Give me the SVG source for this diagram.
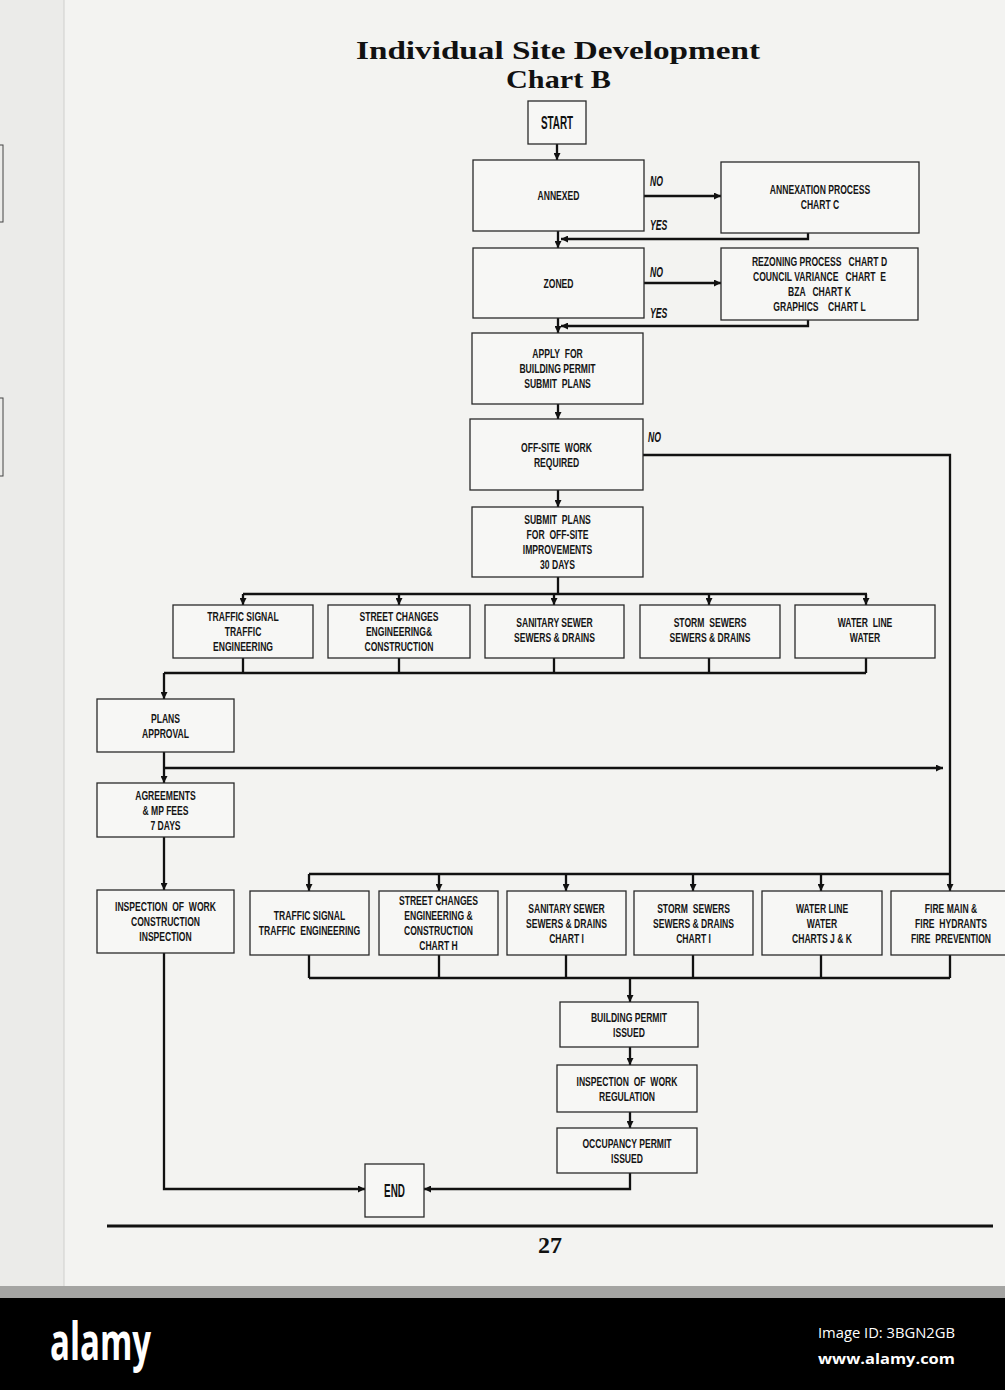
<svg xmlns="http://www.w3.org/2000/svg" width="1005" height="1390" viewBox="0 0 1005 1390">
<defs>
<marker id="ah" viewBox="0 0 10 10" refX="10" refY="5" markerWidth="7" markerHeight="7" markerUnits="userSpaceOnUse" orient="auto"><path d="M0,0 L10,5 L0,10 z" fill="#111"/></marker>
</defs>
<style>
.box{fill:#f7f7f5;stroke:#2a2a2a;stroke-width:1.3}
.t{font-family:"Liberation Sans",Arial,sans-serif;font-weight:bold;font-size:13px;fill:#141414;text-anchor:middle;white-space:pre}
.tb{font-family:"Liberation Sans",Arial,sans-serif;font-weight:bold;font-size:18px;fill:#111;text-anchor:middle}
.lbl{font-family:"Liberation Sans",Arial,sans-serif;font-weight:bold;font-style:italic;font-size:14px;fill:#111}
.c{fill:none;stroke:#111;stroke-width:2.3}
.a{marker-end:url(#ah)}
.title{font-family:"Liberation Serif","Times New Roman",serif;font-weight:bold;fill:#111;text-anchor:middle}
</style>
<rect x="0" y="0" width="1005" height="1390" fill="#f3f3f1"/>
<rect x="0" y="0" width="64" height="1300" fill="#ebebe9"/>
<line x1="64" y1="0" x2="64" y2="1300" stroke="#cfcfcd" stroke-width="1"/>
<rect x="-20" y="145" width="23" height="77" fill="none" stroke="#444" stroke-width="1"/>
<rect x="-20" y="398" width="23" height="78" fill="none" stroke="#444" stroke-width="1"/>

<g id="title">
<text class="title" x="558" y="59" font-size="26" textLength="404" lengthAdjust="spacingAndGlyphs">Individual Site Development</text>
<text class="title" x="558.5" y="88" font-size="26" textLength="105" lengthAdjust="spacingAndGlyphs">Chart B</text>
</g>

<g id="connectors">
<path class="c a" d="M557 144 V160"/>
<path class="c a" d="M644 196 H721"/>
<path class="c a" d="M808 233 V239 H561"/>
<path class="c a" d="M558 231 V248"/>
<path class="c a" d="M644 283 H721"/>
<path class="c a" d="M808 320 V326 H561"/>
<path class="c a" d="M558 318 V333"/>
<path class="c a" d="M558 404 V419"/>
<path class="c a" d="M643 455 H950 V891"/>
<path class="c a" d="M558 490 V507"/>
<path class="c" d="M558 577 V594"/>
<path class="c" d="M243 594 H867"/>
<path class="c a" d="M243 594 V605"/>
<path class="c a" d="M399 594 V605"/>
<path class="c a" d="M554 594 V605"/>
<path class="c a" d="M709 594 V605"/>
<path class="c a" d="M866 594 V605"/>
<path class="c" d="M243 658 V673 M399 658 V673 M554 658 V673 M709 658 V673 M866 658 V673"/>
<path class="c" d="M164 673 H866"/>
<path class="c a" d="M164 673 V699"/>
<path class="c a" d="M164 752 V783"/>
<path class="c a" d="M164 768 H943"/>
<path class="c a" d="M164 837 V890"/>
<path class="c a" d="M164 953 V1189 H365"/>
<path class="c" d="M309 874 H950"/>
<path class="c a" d="M309 874 V891"/>
<path class="c a" d="M439 874 V891"/>
<path class="c a" d="M566 874 V891"/>
<path class="c a" d="M693 874 V891"/>
<path class="c a" d="M821 874 V891"/>
<path class="c" d="M309 955 V978 M439 955 V978 M566 955 V978 M693 955 V978 M821 955 V978 M950 955 V978"/>
<path class="c" d="M309 978 H950"/>
<path class="c a" d="M630 978 V1002"/>
<path class="c a" d="M630 1047 V1065"/>
<path class="c a" d="M630 1112 V1128"/>
<path class="c a" d="M630 1173 V1189 H424"/>
</g>

<g id="labels">
<g transform="translate(650,186) scale(0.62,1)"><text class="lbl">NO</text></g>
<g transform="translate(650,230) scale(0.62,1)"><text class="lbl">YES</text></g>
<g transform="translate(650,277) scale(0.62,1)"><text class="lbl">NO</text></g>
<g transform="translate(650,318) scale(0.62,1)"><text class="lbl">YES</text></g>
<g transform="translate(648,442) scale(0.62,1)"><text class="lbl">NO</text></g>
</g>

<g id="start"><rect class="box" x="528" y="101" width="58" height="43"/>
<g transform="translate(557,0) scale(0.55,1)"><text class="tb" x="0" y="129">START</text></g></g>

<g id="annexed"><rect class="box" x="473" y="160" width="171" height="71"/>
<g transform="translate(558.5,0) scale(0.66,1)"><text class="t" x="0" y="200.2">ANNEXED</text></g></g>

<g id="annexation"><rect class="box" x="721" y="162" width="198" height="71"/>
<g transform="translate(820,0) scale(0.66,1)"><text class="t" x="0" y="194">ANNEXATION PROCESS</text><text class="t" x="0" y="209">CHART C</text></g></g>

<g id="zoned"><rect class="box" x="473" y="248" width="171" height="70"/>
<g transform="translate(558.5,0) scale(0.66,1)"><text class="t" x="0" y="287.7">ZONED</text></g></g>

<g id="rezoning"><rect class="box" x="721" y="248" width="197" height="72"/>
<g transform="translate(819.5,0) scale(0.66,1)"><text class="t" x="0" y="266.2">REZONING PROCESS   CHART D</text><text class="t" x="0" y="281.2">COUNCIL VARIANCE   CHART  E</text><text class="t" x="0" y="296.2">BZA   CHART K</text><text class="t" x="0" y="311.2">GRAPHICS    CHART L</text></g></g>

<g id="apply"><rect class="box" x="472" y="333" width="171" height="71"/>
<g transform="translate(557.5,0) scale(0.66,1)"><text class="t" x="0" y="358.2">APPLY  FOR</text><text class="t" x="0" y="373.2">BUILDING PERMIT</text><text class="t" x="0" y="388.2">SUBMIT  PLANS</text></g></g>

<g id="offsite"><rect class="box" x="470" y="419" width="173" height="71"/>
<g transform="translate(556.5,0) scale(0.66,1)"><text class="t" x="0" y="451.7">OFF-SITE  WORK</text><text class="t" x="0" y="466.7">REQUIRED</text></g></g>

<g id="submit"><rect class="box" x="472" y="507" width="171" height="70"/>
<g transform="translate(557.5,0) scale(0.66,1)"><text class="t" x="0" y="524.2">SUBMIT  PLANS</text><text class="t" x="0" y="539.2">FOR  OFF-SITE</text><text class="t" x="0" y="554.2">IMPROVEMENTS</text><text class="t" x="0" y="569.2">30 DAYS</text></g></g>

<g id="r1-traffic"><rect class="box" x="173" y="605" width="140" height="53"/>
<g transform="translate(243,0) scale(0.66,1)"><text class="t" x="0" y="621.2">TRAFFIC SIGNAL</text><text class="t" x="0" y="636.2">TRAFFIC</text><text class="t" x="0" y="651.2">ENGINEERING</text></g></g>

<g id="r1-street"><rect class="box" x="328" y="605" width="142" height="53"/>
<g transform="translate(399,0) scale(0.66,1)"><text class="t" x="0" y="621.2">STREET CHANGES</text><text class="t" x="0" y="636.2">ENGINEERING&amp;</text><text class="t" x="0" y="651.2">CONSTRUCTION</text></g></g>

<g id="r1-sanitary"><rect class="box" x="485" y="605" width="139" height="53"/>
<g transform="translate(554.5,0) scale(0.66,1)"><text class="t" x="0" y="626.7">SANITARY SEWER</text><text class="t" x="0" y="641.7">SEWERS &amp; DRAINS</text></g></g>

<g id="r1-storm"><rect class="box" x="640" y="605" width="140" height="53"/>
<g transform="translate(710,0) scale(0.66,1)"><text class="t" x="0" y="626.7">STORM  SEWERS</text><text class="t" x="0" y="641.7">SEWERS &amp; DRAINS</text></g></g>

<g id="r1-water"><rect class="box" x="795" y="605" width="140" height="53"/>
<g transform="translate(865,0) scale(0.66,1)"><text class="t" x="0" y="626.7">WATER  LINE</text><text class="t" x="0" y="641.7">WATER</text></g></g>

<g id="plans"><rect class="box" x="97" y="699" width="137" height="53"/>
<g transform="translate(165.5,0) scale(0.66,1)"><text class="t" x="0" y="722.7">PLANS</text><text class="t" x="0" y="737.7">APPROVAL</text></g></g>

<g id="agreements"><rect class="box" x="97" y="783" width="137" height="54"/>
<g transform="translate(165.5,0) scale(0.66,1)"><text class="t" x="0" y="799.7">AGREEMENTS</text><text class="t" x="0" y="814.7">&amp; MP FEES</text><text class="t" x="0" y="829.7">7 DAYS</text></g></g>

<g id="inspection-construction"><rect class="box" x="97" y="890" width="137" height="63"/>
<g transform="translate(165.5,0) scale(0.66,1)"><text class="t" x="0" y="911.2">INSPECTION  OF  WORK</text><text class="t" x="0" y="926.2">CONSTRUCTION</text><text class="t" x="0" y="941.2">INSPECTION</text></g></g>

<g id="r2-traffic"><rect class="box" x="250" y="891" width="119" height="64"/>
<g transform="translate(309.5,0) scale(0.66,1)"><text class="t" x="0" y="920.2">TRAFFIC SIGNAL</text><text class="t" x="0" y="935.2">TRAFFIC  ENGINEERING</text></g></g>

<g id="r2-street"><rect class="box" x="379" y="891" width="119" height="64"/>
<g transform="translate(438.5,0) scale(0.66,1)"><text class="t" x="0" y="905.2">STREET CHANGES</text><text class="t" x="0" y="920.2">ENGINEERING &amp;</text><text class="t" x="0" y="935.2">CONSTRUCTION</text><text class="t" x="0" y="950.2">CHART H</text></g></g>

<g id="r2-sanitary"><rect class="box" x="507" y="891" width="119" height="64"/>
<g transform="translate(566.5,0) scale(0.66,1)"><text class="t" x="0" y="912.7">SANITARY SEWER</text><text class="t" x="0" y="927.7">SEWERS &amp; DRAINS</text><text class="t" x="0" y="942.7">CHART I</text></g></g>

<g id="r2-storm"><rect class="box" x="634" y="891" width="119" height="64"/>
<g transform="translate(693.5,0) scale(0.66,1)"><text class="t" x="0" y="912.7">STORM  SEWERS</text><text class="t" x="0" y="927.7">SEWERS &amp; DRAINS</text><text class="t" x="0" y="942.7">CHART I</text></g></g>

<g id="r2-water"><rect class="box" x="762" y="891" width="120" height="64"/>
<g transform="translate(822,0) scale(0.66,1)"><text class="t" x="0" y="912.7">WATER LINE</text><text class="t" x="0" y="927.7">WATER</text><text class="t" x="0" y="942.7">CHARTS J &amp; K</text></g></g>

<g id="r2-fire"><rect class="box" x="891" y="891" width="120" height="64"/>
<g transform="translate(951,0) scale(0.66,1)"><text class="t" x="0" y="912.7">FIRE MAIN &amp;</text><text class="t" x="0" y="927.7">FIRE  HYDRANTS</text><text class="t" x="0" y="942.7">FIRE  PREVENTION</text></g></g>

<g id="building-permit"><rect class="box" x="560" y="1002" width="138" height="45"/>
<g transform="translate(629,0) scale(0.66,1)"><text class="t" x="0" y="1021.7">BUILDING PERMIT</text><text class="t" x="0" y="1036.7">ISSUED</text></g></g>

<g id="inspection-regulation"><rect class="box" x="557" y="1065" width="140" height="47"/>
<g transform="translate(627,0) scale(0.66,1)"><text class="t" x="0" y="1085.7">INSPECTION  OF  WORK</text><text class="t" x="0" y="1100.7">REGULATION</text></g></g>

<g id="occupancy"><rect class="box" x="557" y="1128" width="140" height="45"/>
<g transform="translate(627,0) scale(0.66,1)"><text class="t" x="0" y="1147.7">OCCUPANCY PERMIT</text><text class="t" x="0" y="1162.7">ISSUED</text></g></g>

<g id="end"><rect class="box" x="365" y="1164" width="59" height="53"/>
<g transform="translate(394.5,0) scale(0.55,1)"><text class="tb" x="0" y="1197">END</text></g></g>

<line x1="107" y1="1226" x2="993" y2="1226" stroke="#111" stroke-width="3"/>
<text class="title" x="550" y="1253" font-size="24">27</text>

<rect x="0" y="1286" width="1005" height="12" fill="#a4a4a2"/>
<rect x="0" y="1298" width="1005" height="92" fill="#000"/>
<g transform="translate(50,1360) scale(0.66,1.05)"><text x="0" y="0" font-family="'Open Sans','Liberation Sans',sans-serif" font-weight="bold" font-size="50" fill="#fff">alamy</text></g>
<text x="818" y="1338" font-family="'Open Sans','Liberation Sans',sans-serif" font-size="14" fill="#fff" textLength="137" lengthAdjust="spacingAndGlyphs">Image ID: 3BGN2GB</text>
<text x="818" y="1364" font-family="'Open Sans','Liberation Sans',sans-serif" font-weight="bold" font-size="15" fill="#fff" textLength="137" lengthAdjust="spacingAndGlyphs">www.alamy.com</text>
</svg>
